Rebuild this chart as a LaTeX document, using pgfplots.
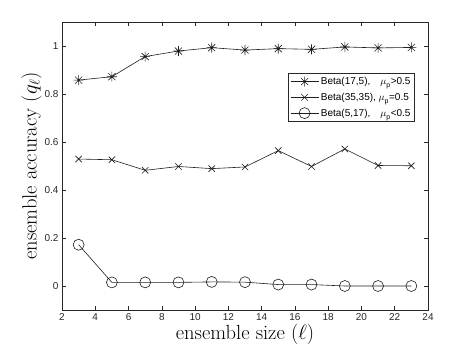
\documentclass[border=0pt]{standalone}
\usepackage{pgfplots}
\pgfplotsset{compat=1.18}
\usepackage{fontspec}
\setmainfont{Liberation Sans}
\newfontfamily\lmr{Latin Modern Roman}
\pgfdeclareplotmark{mstar}{%
  \pgfpathmoveto{\pgfqpoint{0pt}{\pgfplotmarksize}}\pgfpathlineto{\pgfqpoint{0pt}{-\pgfplotmarksize}}%
  \pgfpathmoveto{\pgfqpoint{-\pgfplotmarksize}{0pt}}\pgfpathlineto{\pgfqpoint{\pgfplotmarksize}{0pt}}%
  \pgfpathmoveto{\pgfqpoint{-.707\pgfplotmarksize}{-.707\pgfplotmarksize}}\pgfpathlineto{\pgfqpoint{.707\pgfplotmarksize}{.707\pgfplotmarksize}}%
  \pgfpathmoveto{\pgfqpoint{-.707\pgfplotmarksize}{.707\pgfplotmarksize}}\pgfpathlineto{\pgfqpoint{.707\pgfplotmarksize}{-.707\pgfplotmarksize}}%
  \pgfusepathqstroke}
\definecolor{axgray}{RGB}{40,40,40}
\definecolor{lngray}{RGB}{30,30,30}
\newcommand{\mup}{$\mu_{\raisebox{-1.5pt}{$\scriptstyle\mathrm{p}$}}$}
\begin{document}
\begin{tikzpicture}
\begin{axis}[
  width=366pt, height=288pt, scale only axis,
  xmin=2, xmax=24, ymin=-0.1, ymax=1.1,
  xtick={2,4,...,24}, ytick={0,0.2,...,1},
  yticklabels={0,0.2,0.4,0.6,0.8,1},
  tick align=inside, tick pos=both,
  major tick length=4pt,
  axis line style={axgray, line width=0.5pt},
  every tick/.style={axgray, line width=0.5pt},
  tick label style={font=\fontsize{10}{11}\selectfont, text=axgray},
  /pgf/number format/assume math mode=true,
  xlabel={\lmr\fontsize{20.5}{23}\selectfont ensemble size ($\ell$)},
  ylabel={\lmr\fontsize{20.5}{23}\selectfont ensemble accuracy ($q_\ell$)},
  xlabel style={yshift=3pt},
  ylabel style={yshift=-4pt},
  legend style={at={(0.964,0.823)}, anchor=north east, draw=axgray, line width=0.6pt,
    font=\fontsize{10}{12}\selectfont, row sep=3pt, inner sep=2pt},
  legend cell align=left,
  legend image code/.code={\draw[mark repeat=2,mark phase=2] plot coordinates {(0pt,0pt)(14pt,0pt)(28pt,0pt)};},
]
\coordinate (O) at (rel axis cs:0,0);
\addplot[lngray, line width=0.6pt, mark=mstar, mark size=5pt] coordinates {
(3,0.858)(5,0.872)(7,0.956)(9,0.979)(11,0.993)(13,0.983)(15,0.989)(17,0.986)(19,0.996)(21,0.992)(23,0.994)};
\addlegendentry{Beta(17,5),\quad \mup>0.5}
\addplot[lngray, line width=0.6pt, mark=x, mark size=4.5pt] coordinates {
(3,0.529)(5,0.526)(7,0.482)(9,0.498)(11,0.489)(13,0.496)(15,0.564)(17,0.498)(19,0.571)(21,0.502)(23,0.501)};
\addlegendentry{Beta(35,35), \mup=0.5}
\addplot[lngray, line width=0.6pt, mark=o, mark size=5.5pt] coordinates {
(3,0.172)(5,0.015)(7,0.015)(9,0.015)(11,0.017)(13,0.016)(15,0.006)(17,0.006)(19,0.0)(21,0.0)(23,0.0)};
\addlegendentry{Beta(5,17),\quad \mup<0.5}
\end{axis}
\path[use as bounding box] (O) ++(-62pt,-45pt) rectangle ++(474pt,355pt);
\end{tikzpicture}
\end{document}
